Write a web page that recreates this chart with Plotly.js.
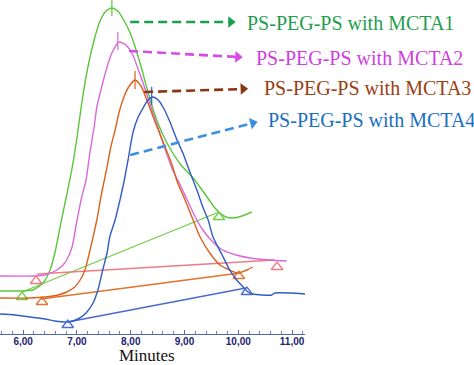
<!DOCTYPE html>
<html>
<head>
<meta charset="utf-8">
<script src="https://cdn.plot.ly/plotly-3.0.1.min.js"></script>
<style>html,body{margin:0;padding:0;background:#fff;}#chart{width:474px;height:365px;}</style>
</head>
<body>
<div id="chart"></div>
<script>
// Retention time (minutes) and detector signal (arbitrary units)
const mcta1T = [5.57,5.94,6.18,6.37,6.50,6.59,6.65,6.72,6.81,6.91,7.00,7.09,7.20,7.32,7.43,7.54,7.65,7.76,7.87,7.99,8.10,8.21,8.32,8.45,8.60,8.77,8.95,9.16,9.38,9.55,9.66,9.77,9.90,10.07,10.25];
const mcta1V = [43,43,44,51,64,81,97,116,139,166,196,231,266,294,313,323,326,323,314,301,284,264,242,219,199,182,168,156,140,127,121,117,116,118,122];

const mcta2T = [5.57,6.22,6.41,6.63,6.74,6.81,6.91,6.96,7.02,7.09,7.17,7.24,7.32,7.37,7.46,7.56,7.65,7.78,7.91,8.04,8.13,8.23,8.32,8.41,8.51,8.60,8.69,8.78,8.92,9.05,9.19,9.34,9.51,9.71,9.96,10.22,10.59,10.90];
const mcta2V = [58,58,59,64,69,74,87,101,119,137,154,181,207,227,247,267,281,292,289,279,266,251,236,221,206,191,177,164,149,134,118,104,93,84,79,76,74,73];

const mcta3T = [5.57,6.13,6.41,6.65,6.81,6.96,7.06,7.15,7.20,7.30,7.37,7.46,7.56,7.63,7.71,7.78,7.86,7.95,8.08,8.19,8.30,8.39,8.49,8.58,8.67,8.77,8.86,9.01,9.16,9.29,9.47,9.66,9.84,9.99,10.16,10.27];
const mcta3V = [36,36,37,39,42,47,54,64,74,97,114,141,167,187,204,221,235,246,254,248,234,221,207,195,183,169,153,134,114,97,81,69,64,61,64,67];

const mcta4T = [5.57,5.85,6.13,6.41,6.59,6.83,7.02,7.17,7.30,7.39,7.48,7.56,7.61,7.71,7.80,7.87,7.95,8.04,8.13,8.23,8.32,8.41,8.51,8.60,8.73,8.86,8.97,9.10,9.23,9.34,9.44,9.53,9.70,9.84,9.97,10.09,10.18,10.27,10.44,10.62,10.68,10.96,11.24];
const mcta4V = [20,19,17,15,13,12,15,21,31,44,64,81,97,114,134,151,174,201,216,226,234,237,234,227,212,194,181,162,144,127,114,97,79,64,54,47,42,40,39,39,41,41,40];

// Integration baselines (start / end points) and peak apex marks
const base1T = [5.98, 9.64], base1V = [42, 122];
const base2T = [6.26, 10.68], base2V = [60, 74];
const base3T = [6.33, 10.03], base3V = [35, 61];
const base4T = [6.83, 10.14], base4V = [12, 46];

const tri1T = [5.98, 9.64], tri1V = [37, 117];
const tri2T = [6.24, 10.72], tri2V = [53, 67];
const tri3T = [6.35, 10.01], tri3V = [32, 58];
const tri4T = [6.83, 10.16], tri4V = [9, 42];

const apexT = [7.65, 7.76, 8.08, 8.39];
const apexV = [327, 293, 254, 238];

const labels = ['PS-PEG-PS with MCTA1','PS-PEG-PS with MCTA2','PS-PEG-PS with MCTA3','PS-PEG-PS with MCTA4'];
const tickVals = [6, 7, 8, 9, 10, 11];
const tickText = ['6,00','7,00','8,00','9,00','10,00','11,00'];
const xTitle = 'Minutes';

// Arrow tails and heads (minutes, signal)
const arrowFromT = [7.99, 7.97, 8.25, 7.99], arrowFromV = [312, 283, 242, 179];
const arrowToT = [9.86, 9.99, 10.09, 10.27], arrowToV = [312, 277, 245, 211];
const arrowAngle = [0, 3, -2, -15];

const curveCol = ['#5cc53c', '#d76ad8', '#d9621e', '#2f5cc8'];
const baseCol = ['#6ccf45', '#f27a84', '#e2722e', '#4a6ad0'];
const arrowCol = ['#1ba14e', '#d84ae6', '#8a3512', '#3d8fe0'];
const textCol = ['#1f9e4f', '#cf3fe0', '#9a4012', '#1a6fc0'];

const traces = [];
const curves = [[mcta1T, mcta1V],[mcta2T, mcta2V],[mcta3T, mcta3V],[mcta4T, mcta4V]];
const bases = [[base1T, base1V],[base2T, base2V],[base3T, base3V],[base4T, base4V]];
const tris = [[tri1T, tri1V],[tri2T, tri2V],[tri3T, tri3V],[tri4T, tri4V]];
for (let i = 0; i < 4; i++) {
  traces.push({x: bases[i][0], y: bases[i][1], mode: 'lines', line: {color: baseCol[i], width: 1.3}, hoverinfo: 'skip'});
  traces.push({x: curves[i][0], y: curves[i][1], mode: 'lines', line: {color: curveCol[i], width: 1.4, shape: 'spline', smoothing: 0.6}, name: labels[i]});
  traces.push({x: tris[i][0], y: tris[i][1], mode: 'markers', marker: {symbol: 'triangle-up-open', size: 10, color: baseCol[i], line: {width: 1.3, color: baseCol[i]}}, hoverinfo: 'skip'});
}
traces.push({x: apexT, y: apexV, mode: 'markers', marker: {symbol: 'line-ns-open', size: 13, color: curveCol, line: {width: 1.2, color: curveCol}}, hoverinfo: 'skip'});
traces.push({x: arrowToT, y: arrowToV, mode: 'markers', marker: {symbol: 'triangle-right', size: 10, angle: arrowAngle, color: arrowCol, line: {width: 0}}, hoverinfo: 'skip'});

const plotW = 305, plotH = 334;
const shapes = [], annotations = [];
const textLeft = [245, 254, 262, 266];
const textY = [23, 58, 88, 120];
for (let i = 0; i < 4; i++) {
  shapes.push({type: 'line', xref: 'x', yref: 'y', x0: arrowFromT[i], y0: arrowFromV[i], x1: arrowToT[i], y1: arrowToV[i],
    line: {color: arrowCol[i], width: 2.6, dash: '9px,5px'}});
  annotations.push({xref: 'paper', yref: 'paper', x: textLeft[i] / plotW, y: (plotH - textY[i]) / plotH,
    xanchor: 'left', yanchor: 'middle', text: labels[i], showarrow: false,
    font: {family: 'Liberation Serif, Times New Roman, serif', size: 20, color: textCol[i]}});
}
annotations.push({xref: 'paper', yref: 'paper', x: 147 / plotW, y: (plotH - 345) / plotH,
  xanchor: 'center', yanchor: 'top', borderpad: 0, text: xTitle, showarrow: false,
  font: {family: 'Liberation Serif, Times New Roman, serif', size: 17, color: '#111111'}});

const layout = {
  width: 474, height: 365,
  margin: {l: 0, r: 169, t: 0, b: 31},
  paper_bgcolor: '#ffffff', plot_bgcolor: '#ffffff',
  showlegend: false,
  xaxis: {
    range: [5.57, 11.24], tickvals: tickVals, ticktext: tickText,
    ticks: 'inside', ticklen: 4, tickcolor: '#5868b0', tickwidth: 1, ticklabelstandoff: -2,
    minor: {dtick: 0.2, ticks: 'inside', ticklen: 3, tickcolor: '#7080c0', showgrid: false},
    showline: true, linecolor: '#5868b0', linewidth: 1.2, mirror: false,
    showgrid: false, zeroline: false, automargin: false,
    tickfont: {family: 'Liberation Sans, Arial, sans-serif', size: 10, color: '#1c2470', weight: 'bold'}
  },
  yaxis: {range: [0, 334], visible: false, showgrid: false, zeroline: false},
  shapes: shapes,
  annotations: annotations
};

Plotly.newPlot('chart', traces, layout, {displayModeBar: false, staticPlot: true});
</script>
</body>
</html>
